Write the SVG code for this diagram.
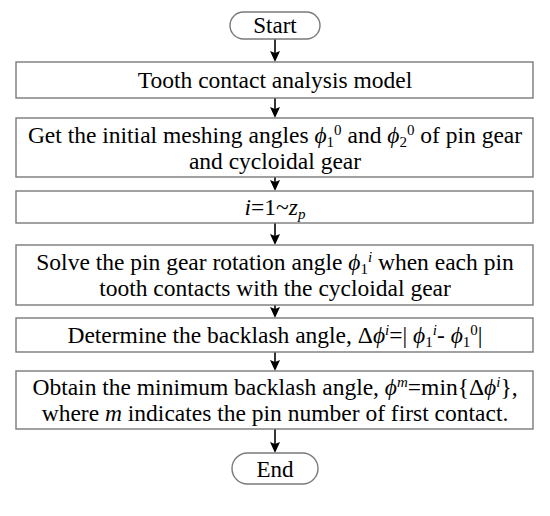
<svg xmlns="http://www.w3.org/2000/svg" width="550" height="516" viewBox="0 0 550 516">
<rect width="550" height="516" fill="#fff"/>
<g id="connectors" stroke="#000" stroke-width="1.6" fill="#000">
<line x1="275" y1="39" x2="275" y2="54"/><polygon stroke="none" points="270,51 275,53 280,51 275,62"/>
<line x1="275" y1="98" x2="275" y2="110"/><polygon stroke="none" points="270,107 275,109 280,107 275,118"/>
<line x1="275" y1="177" x2="275" y2="183"/><polygon stroke="none" points="270,180 275,182 280,180 275,191"/>
<line x1="275" y1="223" x2="275" y2="237"/><polygon stroke="none" points="270,234 275,236 280,234 275,245"/>
<line x1="275" y1="305" x2="275" y2="310"/><polygon stroke="none" points="270,307 275,309 280,307 275,318"/>
<line x1="275" y1="352" x2="275" y2="363"/><polygon stroke="none" points="270,360 275,362 280,360 275,371"/>
<line x1="275" y1="429" x2="275" y2="445"/><polygon stroke="none" points="270,442 275,444 280,442 275,453"/>
</g>
<g id="start">
<rect x="230" y="12" width="90" height="27" rx="13.5" fill="#fff" stroke="#7a7a7a" stroke-width="1.4"/>
<text x="275" y="33" font-size="23" font-family="Liberation Serif" text-anchor="middle">Start</text>
</g>
<g id="n1">
<rect x="16" y="62" width="517" height="36" fill="#fff" stroke="#7a7a7a" stroke-width="1.4"/>
<text x="275" y="88" font-size="23.5" font-family="Liberation Serif" text-anchor="middle">Tooth contact analysis model</text>
</g>
<g id="n2">
<rect x="16" y="118" width="517" height="59" fill="#fff" stroke="#7a7a7a" stroke-width="1.4"/>
<text x="275" y="143" font-size="23.5" font-family="Liberation Serif" text-anchor="middle">Get the initial meshing angles <tspan font-style="italic">ϕ</tspan><tspan font-size="15" dy="4">1</tspan><tspan font-size="15" dy="-12">0</tspan><tspan dy="8"> and </tspan><tspan font-style="italic">ϕ</tspan><tspan font-size="15" dy="4">2</tspan><tspan font-size="15" dy="-12">0</tspan><tspan dy="8"> of pin gear</tspan></text>
<text x="275" y="169" font-size="23.5" font-family="Liberation Serif" text-anchor="middle">and cycloidal gear</text>
</g>
<g id="n3">
<rect x="16" y="191" width="517" height="32" fill="#fff" stroke="#7a7a7a" stroke-width="1.4"/>
<text x="275" y="215" font-size="23.5" font-family="Liberation Serif" text-anchor="middle"><tspan font-style="italic">i</tspan>=1~<tspan font-style="italic">z</tspan><tspan font-size="15" font-style="italic" dy="4">p</tspan></text>
</g>
<g id="n4">
<rect x="16" y="245" width="517" height="60" fill="#fff" stroke="#7a7a7a" stroke-width="1.4"/>
<text x="275" y="270" font-size="23.5" font-family="Liberation Serif" text-anchor="middle">Solve the pin gear rotation angle <tspan font-style="italic">ϕ</tspan><tspan font-size="15" dy="4">1</tspan><tspan font-size="15" font-style="italic" dy="-12">i</tspan><tspan dy="8"> when each pin</tspan></text>
<text x="275" y="296" font-size="23.5" font-family="Liberation Serif" text-anchor="middle">tooth contacts with the cycloidal gear</text>
</g>
<g id="n5">
<rect x="16" y="318" width="517" height="34" fill="#fff" stroke="#7a7a7a" stroke-width="1.4"/>
<text x="275" y="343" font-size="23.5" font-family="Liberation Serif" text-anchor="middle">Determine the backlash angle, Δ<tspan font-style="italic">ϕ</tspan><tspan font-size="15" font-style="italic" dy="-8">i</tspan><tspan dy="8">=| </tspan><tspan font-style="italic">ϕ</tspan><tspan font-size="15" dy="4">1</tspan><tspan font-size="15" font-style="italic" dy="-12">i</tspan><tspan dy="8">- </tspan><tspan font-style="italic">ϕ</tspan><tspan font-size="15" dy="4">1</tspan><tspan font-size="15" dy="-12">0</tspan><tspan dy="8">|</tspan></text>
</g>
<g id="n6">
<rect x="16" y="371" width="517" height="58" fill="#fff" stroke="#7a7a7a" stroke-width="1.4"/>
<text x="275" y="395" font-size="23.5" font-family="Liberation Serif" text-anchor="middle">Obtain the minimum backlash angle, <tspan font-style="italic">ϕ</tspan><tspan font-size="15" font-style="italic" dy="-8">m</tspan><tspan dy="8">=min{Δ</tspan><tspan font-style="italic">ϕ</tspan><tspan font-size="15" font-style="italic" dy="-8">i</tspan><tspan dy="8">},</tspan></text>
<text x="275" y="421" font-size="23.5" font-family="Liberation Serif" text-anchor="middle">where <tspan font-style="italic">m</tspan> indicates the pin number of first contact.</text>
</g>
<g id="end">
<rect x="232" y="453" width="86" height="31" rx="15.5" fill="#fff" stroke="#7a7a7a" stroke-width="1.4"/>
<text x="275" y="477" font-size="23" font-family="Liberation Serif" text-anchor="middle">End</text>
</g>
</svg>
